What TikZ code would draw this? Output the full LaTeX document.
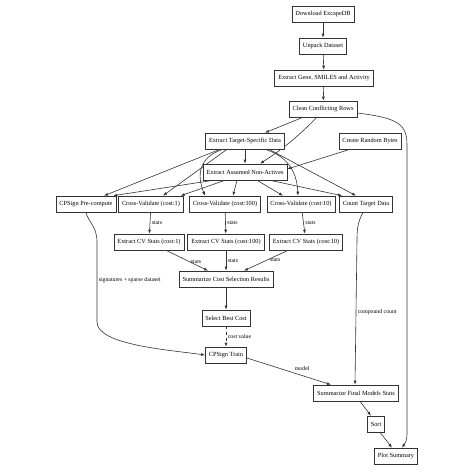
\documentclass[tikz,border=0pt]{standalone}
\usepackage{fontspec}
\setmainfont{Liberation Serif}
\usetikzlibrary{arrows.meta,backgrounds}

\begin{document}
\begin{tikzpicture}[x=1pt,y=-1pt,
    box/.style={draw=black!80,fill=white,line width=0.6pt,minimum height=16pt,inner xsep=3.5pt,inner ysep=1pt,font=\fontsize{6.3}{7}\selectfont},
    flow/.style={-{Latex[length=4pt,width=3pt]},draw=black!80,line width=0.6pt},
    lbl/.style={font=\fontsize{5.8}{6}\selectfont,inner sep=1.5pt}]
    \useasboundingbox (0,0) rectangle (474,474);
    % pipeline steps
    \node[box] (dl) at (323,14) {Download ExcapeDB};
    \node[box] (up) at (323,46) {Unpack Dataset};
    \node[box] (eg) at (324,78) {Extract Gene, SMILES and Activity};
    \node[box] (cc) at (323,109) {Clean Conflicting Rows};
    \node[box] (ts) at (245,141) {Extract Target-Specific Data};
    \node[box] (rb) at (370,141) {Create Random Bytes};
    \node[box] (na) at (245,172) {Extract Assumed Non-Actives};
    \node[box] (pc) at (86,204) {CPSign Pre-compute};
    \node[box] (cv1) at (151,204) {Cross-Validate (cost:1)};
    \node[box] (cv100) at (225,204) {Cross-Validate (cost:100)};
    \node[box] (cv10) at (301,204) {Cross-Validate (cost:10)};
    \node[box] (ct) at (366,204) {Count Target Data};
    \node[box] (es1) at (149,242) {Extract CV Stats (cost:1)};
    \node[box] (es100) at (226,242) {Extract CV Stats (cost:100)};
    \node[box] (es10) at (306,242) {Extract CV Stats (cost:10)};
    \node[box] (sc) at (226,279) {Summarize Cost Selection Results};
    \node[box] (bc) at (226,318) {Select Best Cost};
    \node[box] (tr) at (226,355) {CPSign Train};
    \node[box] (sf) at (356,393) {Summarize Final Models Stats};
    \node[box] (so) at (376,424) {Sort};
    \node[box] (ps) at (396,456) {Plot Summary};
    \begin{scope}[on background layer]
    % top chain
    \draw[flow] (dl) -- (up);
    \draw[flow] (up) -- (eg);
    \draw[flow] (eg) -- (cc);
    \draw[flow] ([xshift=-20pt]cc.south) -- ([xshift=20pt]ts.north);
    \draw[flow] ([xshift=-6pt]cc.south) to[bend left=6] ([xshift=15pt]na.north);
    \coordinate (rt) at (407,145);\coordinate (rbt) at (407,428);
    \draw[flow] ([yshift=-4pt]cc.east) .. controls (398,118) and (407,124) .. (rt) -- (rbt) .. controls (407,440) .. ([xshift=6pt]ps.north);
    \draw[flow] ([xshift=-20pt]rb.south) -- ([yshift=3pt]na.east);
    % target data fan out
    \draw[flow] (ts) -- (na);
    \draw[flow] ([xshift=-25pt]ts.south) -- ([xshift=18pt]pc.north);
    \draw[flow] ([xshift=-18pt]ts.south) -- ([xshift=12pt]cv1.north);
    \draw[flow] ([xshift=-22pt]ts.south) .. controls +(-25,8) and +(-8,-20) .. ([xshift=-20pt]cv100.north);
    \draw[flow] ([xshift=20pt]ts.south) .. controls +(26,8) and +(-1,-20) .. ([xshift=-3pt]cv10.north);
    \draw[flow] ([xshift=24pt]ts.south) -- ([xshift=-10pt]ct.north);
    % non-actives fan out
    \draw[flow] ([xshift=-32pt]na.south) -- ([xshift=-3pt]pc.north east);
    \draw[flow] ([xshift=-20pt]na.south) -- ([xshift=-3pt]cv1.north east);
    \draw[flow] ([xshift=-8pt]na.south) -- ([xshift=8pt]cv100.north);
    \draw[flow] ([xshift=12pt]na.south) -- ([xshift=-18pt]cv10.north);
    \draw[flow] ([xshift=25pt]na.south) -- ([xshift=3pt]ct.north west);
    % cross validation stats
    \draw[flow] (cv1) -- node[lbl,right]{stats} (es1);
    \draw[flow] (cv100) -- node[lbl,right]{stats} (es100);
    \draw[flow] (cv10) -- node[lbl,right]{stats} (es10);
    \draw[flow] (es1) -- node[lbl,right,pos=0.55]{stats} ([xshift=-18pt]sc.north);
    \draw[flow] (es100) -- node[lbl,right]{stats} (sc);
    \draw[flow] (es10) -- node[lbl,right,pos=0.45]{stats} ([xshift=18pt]sc.north);
    \draw[flow] (sc) -- (bc);
    \draw[flow,dashed] (bc) -- node[lbl,right]{cost value} (tr);
    % training and summary
    \draw[flow] (pc.south) .. controls (88,222) and (97,226) .. (97,242) -- node[lbl,right,pos=0.48]{signatures + sparse dataset} (97,322) .. controls (97,345) and (170,350) .. (tr.west);
    \draw[flow] ([yshift=-3pt]tr.east) -- node[lbl,above right,pos=0.55]{model} ([xshift=-25pt]sf.north);
    \draw[flow] ([xshift=-3pt]ct.south) .. controls (358,222) and (357,228) .. (357,240) -- node[lbl,right]{compound count} ([xshift=-1pt]sf.north);
    \draw[flow] ([xshift=4pt]sf.south) -- ([xshift=-5pt]so.north);
    \draw[flow] ([xshift=4pt]so.south) -- ([xshift=-4pt]ps.north);
    \end{scope}
\end{tikzpicture}
\end{document}
